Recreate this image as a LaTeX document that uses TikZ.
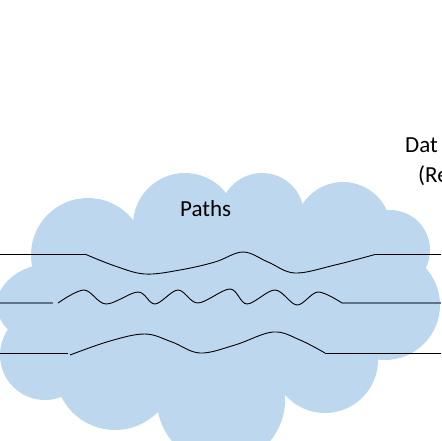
\documentclass[tikz,border=0pt]{standalone}
\usepackage{fontspec}
\setmainfont{Carlito}
\usepackage{tikz}

\definecolor{cloudblue}{HTML}{BDD7EE}
\definecolor{linkgray}{HTML}{5E7387}

\begin{document}
\begin{tikzpicture}[x=1pt, y=-1pt,
    cloudpart/.style={fill=cloudblue, draw=none},
    pathline/.style={black, line width=0.9pt},
    linkline/.style={linkgray, line width=1.8pt},
    label/.style={inner sep=0pt, anchor=base west, font=\fontsize{23}{28}\selectfont}]
    \useasboundingbox (0,0) rectangle (441,441);

    % cloud
    \fill[cloudpart](88,255)circle(57);
    \fill[cloudpart](185,225)circle(52);
    \fill[cloudpart](262,215)circle(42);
    \fill[cloudpart](343,230)circle(48);
    \fill[cloudpart](390,250)circle(40);
    \fill[cloudpart](385,305)circle(55);
    \fill[cloudpart](325,360)circle(53);
    \fill[cloudpart](221,400)circle(64);
    \fill[cloudpart](115,370)circle(60);
    \fill[cloudpart](45,355)circle(45);
    \fill[cloudpart](55,305)ellipse[x radius=58, y radius=42];
    \fill[cloudpart](235,305)ellipse[x radius=180, y radius=85];

    \node[label](paths)at(180,216){Paths};
    \node[label](dat)at(405,152){Dat};
    \node[label](re)at(418,182){(Re};

    % top path
    \draw[pathline](0,254.5)--(86,254.5);
    \draw[pathline]plot[smooth, tension=0.6]coordinates{(86,254.5) (115,266) (145,274) (180,270) (215,262) (243,252) (268,262) (295,273) (335,265) (375,254.5)};
    \draw[pathline](375,254.5)--(441,254.5);

    % middle path
    \draw[linkline](0,303)--(53,303);
    \draw[pathline]plot[smooth, tension=0.55]coordinates{(58,303) (84,290) (106,304) (138,292) (155,304) (178,290) (198,303) (230,289) (247,304) (275,290) (297,305) (318,292) (342,303)};
    \draw[linkline](342,303)--(441,303);

    % bottom path
    \draw[pathline](0,353)--(68,353);
    \draw[pathline]plot[smooth, tension=0.6]coordinates{(70,355) (110,341) (145,334) (172,342) (200,353) (235,345) (273,332) (300,340) (325,353)};
    \draw[pathline](325,353)--(441,353);
\end{tikzpicture}
\end{document}
